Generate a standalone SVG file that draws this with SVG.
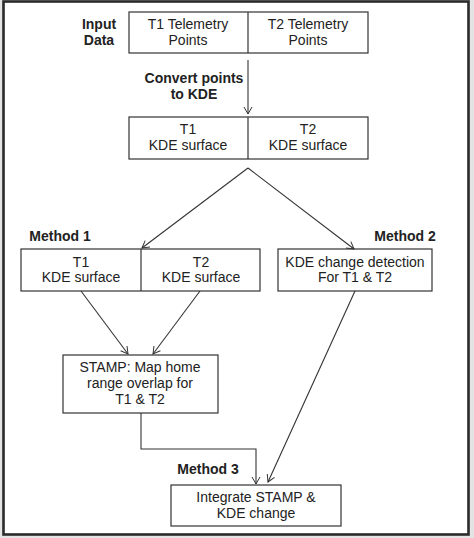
<svg xmlns="http://www.w3.org/2000/svg" width="474" height="538" viewBox="0 0 474 538">
<defs>
<marker id="arr" markerWidth="10" markerHeight="10" refX="8" refY="5" orient="auto" markerUnits="userSpaceOnUse">
<path d="M1,1 L8,5 L1,9" fill="none" stroke="#333" stroke-width="1"/>
</marker>
</defs>
<style>
.box{fill:#fff;stroke:#333;stroke-width:1.2}
.div{stroke:#333;stroke-width:1.2}
.t{font-family:"Liberation Sans",Arial,sans-serif;font-size:14px;fill:#222;text-anchor:middle}
.b{font-family:"Liberation Sans",Arial,sans-serif;font-size:14px;font-weight:bold;fill:#222;text-anchor:middle}
.c{fill:none;stroke:#333;stroke-width:1.1;marker-end:url(#arr)}
</style>
<rect x="0" y="0" width="474" height="538" fill="#e4e4e4"/>
<rect x="3.5" y="1.5" width="465" height="533" fill="#fff" stroke="#2a2a2a" stroke-width="2.6"/>

<g id="input-label">
<text class="b" x="99" y="29">Input</text>
<text class="b" x="99" y="45">Data</text>
</g>
<g id="input-data">
<rect class="box" x="129" y="12" width="239" height="41"/>
<line class="div" x1="248" y1="12" x2="248" y2="53"/>
<text class="t" x="188" y="29">T1 Telemetry</text>
<text class="t" x="188" y="45">Points</text>
<text class="t" x="308" y="29">T2 Telemetry</text>
<text class="t" x="308" y="45">Points</text>
</g>
<g id="convert-label">
<text class="b" x="194" y="83">Convert points</text>
<text class="b" x="194" y="99">to KDE</text>
</g>
<g id="kde-surfaces">
<rect class="box" x="129" y="117" width="239" height="42"/>
<line class="div" x1="248" y1="117" x2="248" y2="159"/>
<text class="t" x="188" y="134">T1</text>
<text class="t" x="188" y="150">KDE surface</text>
<text class="t" x="308" y="134">T2</text>
<text class="t" x="308" y="150">KDE surface</text>
</g>
<g id="method1-label"><text class="b" x="60" y="241">Method 1</text></g>
<g id="method2-label"><text class="b" x="405" y="241">Method 2</text></g>
<g id="method1">
<rect class="box" x="21" y="249" width="239" height="42"/>
<line class="div" x1="141" y1="249" x2="141" y2="291"/>
<text class="t" x="81" y="267">T1</text>
<text class="t" x="81" y="282">KDE surface</text>
<text class="t" x="201" y="267">T2</text>
<text class="t" x="201" y="282">KDE surface</text>
</g>
<g id="method2">
<rect class="box" x="278" y="249" width="154" height="42"/>
<text class="t" x="355" y="267">KDE change detection</text>
<text class="t" x="355" y="282">For T1 &amp; T2</text>
</g>
<g id="stamp">
<rect class="box" x="63" y="355" width="155" height="58"/>
<text class="t" x="140" y="372">STAMP: Map home</text>
<text class="t" x="140" y="388">range overlap for</text>
<text class="t" x="140" y="404">T1 &amp; T2</text>
</g>
<g id="method3-label"><text class="b" x="208" y="474">Method 3</text></g>
<g id="integrate">
<rect class="box" x="171" y="485" width="170" height="41"/>
<text class="t" x="256" y="502">Integrate STAMP &amp;</text>
<text class="t" x="256" y="518">KDE change</text>
</g>
<g id="connectors">
<line class="c" x1="248" y1="60" x2="248" y2="114"/>
<line class="c" x1="248" y1="168" x2="142" y2="248"/>
<line class="c" x1="248" y1="168" x2="354" y2="249"/>
<line class="c" x1="81" y1="291" x2="128" y2="354"/>
<line class="c" x1="200" y1="291" x2="153" y2="354"/>
<line class="c" x1="355" y1="291" x2="268" y2="482"/>
<polyline class="c" points="141,413 141,449 256,449 256,484"/>
</g>
</svg>
